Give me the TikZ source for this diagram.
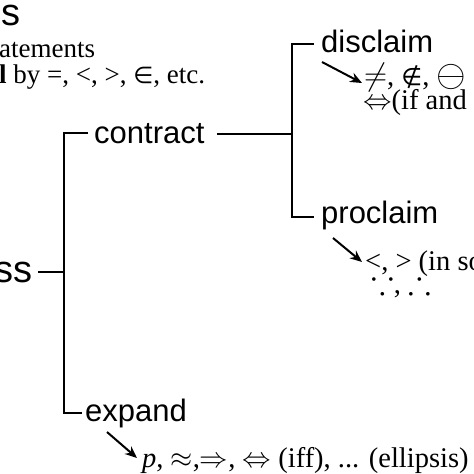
\RequirePackage{fix-cm}
\documentclass[tikz,border=0pt]{standalone}
\usepackage{amssymb}
\usepackage{fontspec}
\setmainfont{Liberation Serif}
\setsansfont{Liberation Sans}
\newfontfamily\symsans{DejaVu Sans}
\usetikzlibrary{arrows.meta}
\newcommand{\symsize}[2]{{\fontsize{#1}{#1}\selectfont#2}}
\begin{document}
\begin{tikzpicture}[x=1pt,y=-1pt,
  big/.style={inner sep=0pt,anchor=base west,font=\sffamily\fontsize{38}{38}\selectfont},
  word/.style={inner sep=0pt,anchor=base west,font=\sffamily\fontsize{31}{31}\selectfont},
  note/.style={inner sep=0pt,anchor=base west,font=\rmfamily\fontsize{27}{27}\selectfont},
  bignote/.style={inner sep=0pt,anchor=base west,font=\rmfamily\fontsize{28.5}{28.5}\selectfont},
  tree/.style={line width=2.6pt,line cap=butt,line join=miter},
  pointer/.style={line width=2pt,-{Stealth[length=12pt,width=10pt]}}]
\clip (0,0) rectangle (474,474);
\fill[white] (0,0) rectangle (474,474);
% top left texts
\node[big] (title) at (1,25) {s};
\node[note] (st1) at (-1,57) {atements};
\node[note] (st2) at (-1,83) {\textbf{l} by =, <, >, {\symsans\fontsize{23}{23}\selectfont∈}, etc.};
% root
\node[big] (root) at (-6,282) {ss};
\coordinate (rootend) at (38,272);
\coordinate (j1) at (64,272);
\coordinate (j1top) at (64,133);
\coordinate (j1bot) at (64,413);
\coordinate (cstart) at (88,133);
\coordinate (estart) at (82,413);
\draw[tree] (rootend) -- (j1);
\draw[tree] (cstart) -- (j1top) -- (j1bot) -- (estart);
% contract
\node[word] (contract) at (94,143) {contract};
\coordinate (cend) at (217,134);
\coordinate (j2) at (292,134);
\coordinate (j2top) at (292,44);
\coordinate (j2bot) at (292,217);
\coordinate (dstart) at (314,44);
\coordinate (pstart) at (314,217);
\draw[tree] (cend) -- (j2);
\draw[tree] (dstart) -- (j2top) -- (j2bot) -- (pstart);
% disclaim
\node[word] (disclaim) at (321,52) {disclaim};
\coordinate (da) at (322,62);
\coordinate (db) at (362,83);
\draw[pointer] (da) -- (db);
\node[bignote] (d1) at (364,85) {\symsize{32}{$\neq$}, {\symsans\fontsize{24}{24}\selectfont∉}, \raisebox{-1.5pt}{\symsize{38}{$\ominus$}}};
\node[bignote] (d2) at (363,109) {$\Leftrightarrow$(if and only if)};
% proclaim
\node[word] (proclaim) at (321,223) {proclaim};
\coordinate (pa) at (333,238);
\coordinate (pb) at (362,262);
\draw[pointer] (pa) -- (pb);
\node[bignote] (p1) at (365,270) {<, > (in some)};
\node[bignote] (p2) at (371,293) {\symsize{34}{$\because$}, \symsize{34}{$\therefore$}};
% expand
\node[word] (expand) at (85,421) {expand};
\coordinate (ea) at (107,432);
\coordinate (eb) at (137,458);
\draw[pointer] (ea) -- (eb);
\node[bignote] (e1) at (142,467) {\textit{p}, $\approx$,$\Rightarrow$, $\Leftrightarrow$ (iff), ... (ellipsis)};
\end{tikzpicture}
\end{document}
